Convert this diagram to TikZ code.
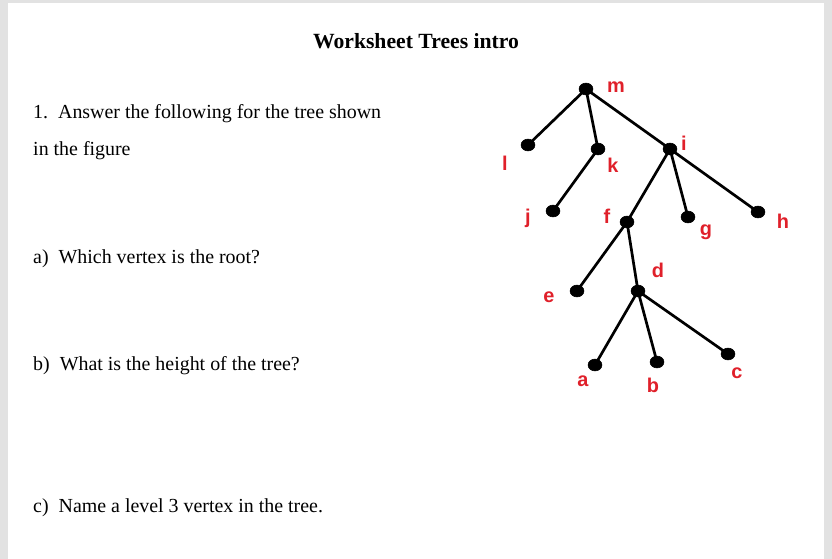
\documentclass[tikz,border=0pt]{standalone}
\usepackage{fontspec}
\setmainfont{Liberation Serif}
\newfontfamily\labfont{Liberation Sans}
\usetikzlibrary{shapes.geometric}
\usepackage{xcolor}
\definecolor{labred}{HTML}{E0202A}
\definecolor{pagegray}{HTML}{E2E2E2}

\begin{document}
\begin{tikzpicture}[x=0.03cm,y=-0.03cm,
    txt/.style={anchor=west,inner sep=0pt,font=\fontsize{17}{19}\selectfont},
    vtx/.style={draw,fill=black,ellipse,minimum width=0.42cm,minimum height=0.36cm,inner sep=0pt},
    lab/.style={text=labred,inner sep=0pt,font=\labfont\bfseries\fontsize{17}{19}\selectfont},
    edge/.style={line width=2.3pt}]
    \useasboundingbox (0,0) rectangle (832,559);
    \fill[pagegray] (0,0) rectangle (832,559);
    \fill[white] (8,3) rectangle (824,559);
    % worksheet text
    \node[txt,anchor=center,font=\bfseries\fontsize{18.5}{20}\selectfont] (title) at (416,41) {Worksheet Trees intro};
    \node[txt] (q1)  at (33,114) {1.\ \ Answer the following for the tree shown};
    \node[txt] (q1b) at (33,151) {in the figure};
    \node[txt] (qa)  at (33,259) {a)\ \ Which vertex is the root?};
    \node[txt] (qb)  at (33,366) {b)\ \ What is the height of the tree?};
    \node[txt] (qc)  at (33,508) {c)\ \ Name a level 3 vertex in the tree.};
    % tree
    \node[vtx] (m) at (586,89)  {};
    \node[vtx] (l) at (528,145) {};
    \node[vtx] (k) at (598,149) {};
    \node[vtx] (i) at (670,149) {};
    \node[vtx] (j) at (553,211) {};
    \node[vtx] (f) at (627,222) {};
    \node[vtx] (g) at (688,217) {};
    \node[vtx] (h) at (758,212) {};
    \node[vtx] (e) at (577,291) {};
    \node[vtx] (d) at (638,291) {};
    \node[vtx] (a) at (595,365) {};
    \node[vtx] (b) at (657,362) {};
    \node[vtx] (c) at (728,354) {};
    \draw[edge] (m.center)--(l.center); \draw[edge] (m.center)--(k.center); \draw[edge] (m.center)--(i.center);
    \draw[edge] (k.center)--(j.center);
    \draw[edge] (i.center)--(f.center); \draw[edge] (i.center)--(g.center); \draw[edge] (i.center)--(h.center);
    \draw[edge] (f.center)--(e.center); \draw[edge] (f.center)--(d.center);
    \draw[edge] (d.center)--(a.center); \draw[edge] (d.center)--(b.center); \draw[edge] (d.center)--(c.center);
    \node[lab] (lm) at (616,87)  {m};
    \node[lab] (ll) at (505,163) {l};
    \node[lab] (lk) at (613,165) {k};
    \node[lab] (li) at (684,143) {i};
    \node[lab] (lj) at (528,218) {j};
    \node[lab] (lf) at (607,216) {f};
    \node[lab] (lg) at (706,232) {g};
    \node[lab] (lh) at (783,221) {h};
    \node[lab] (le) at (549,297) {e};
    \node[lab] (ld) at (658,270) {d};
    \node[lab] (la) at (583,381) {a};
    \node[lab] (lb) at (653,385) {b};
    \node[lab] (lc) at (737,373) {c};
\end{tikzpicture}
\end{document}
